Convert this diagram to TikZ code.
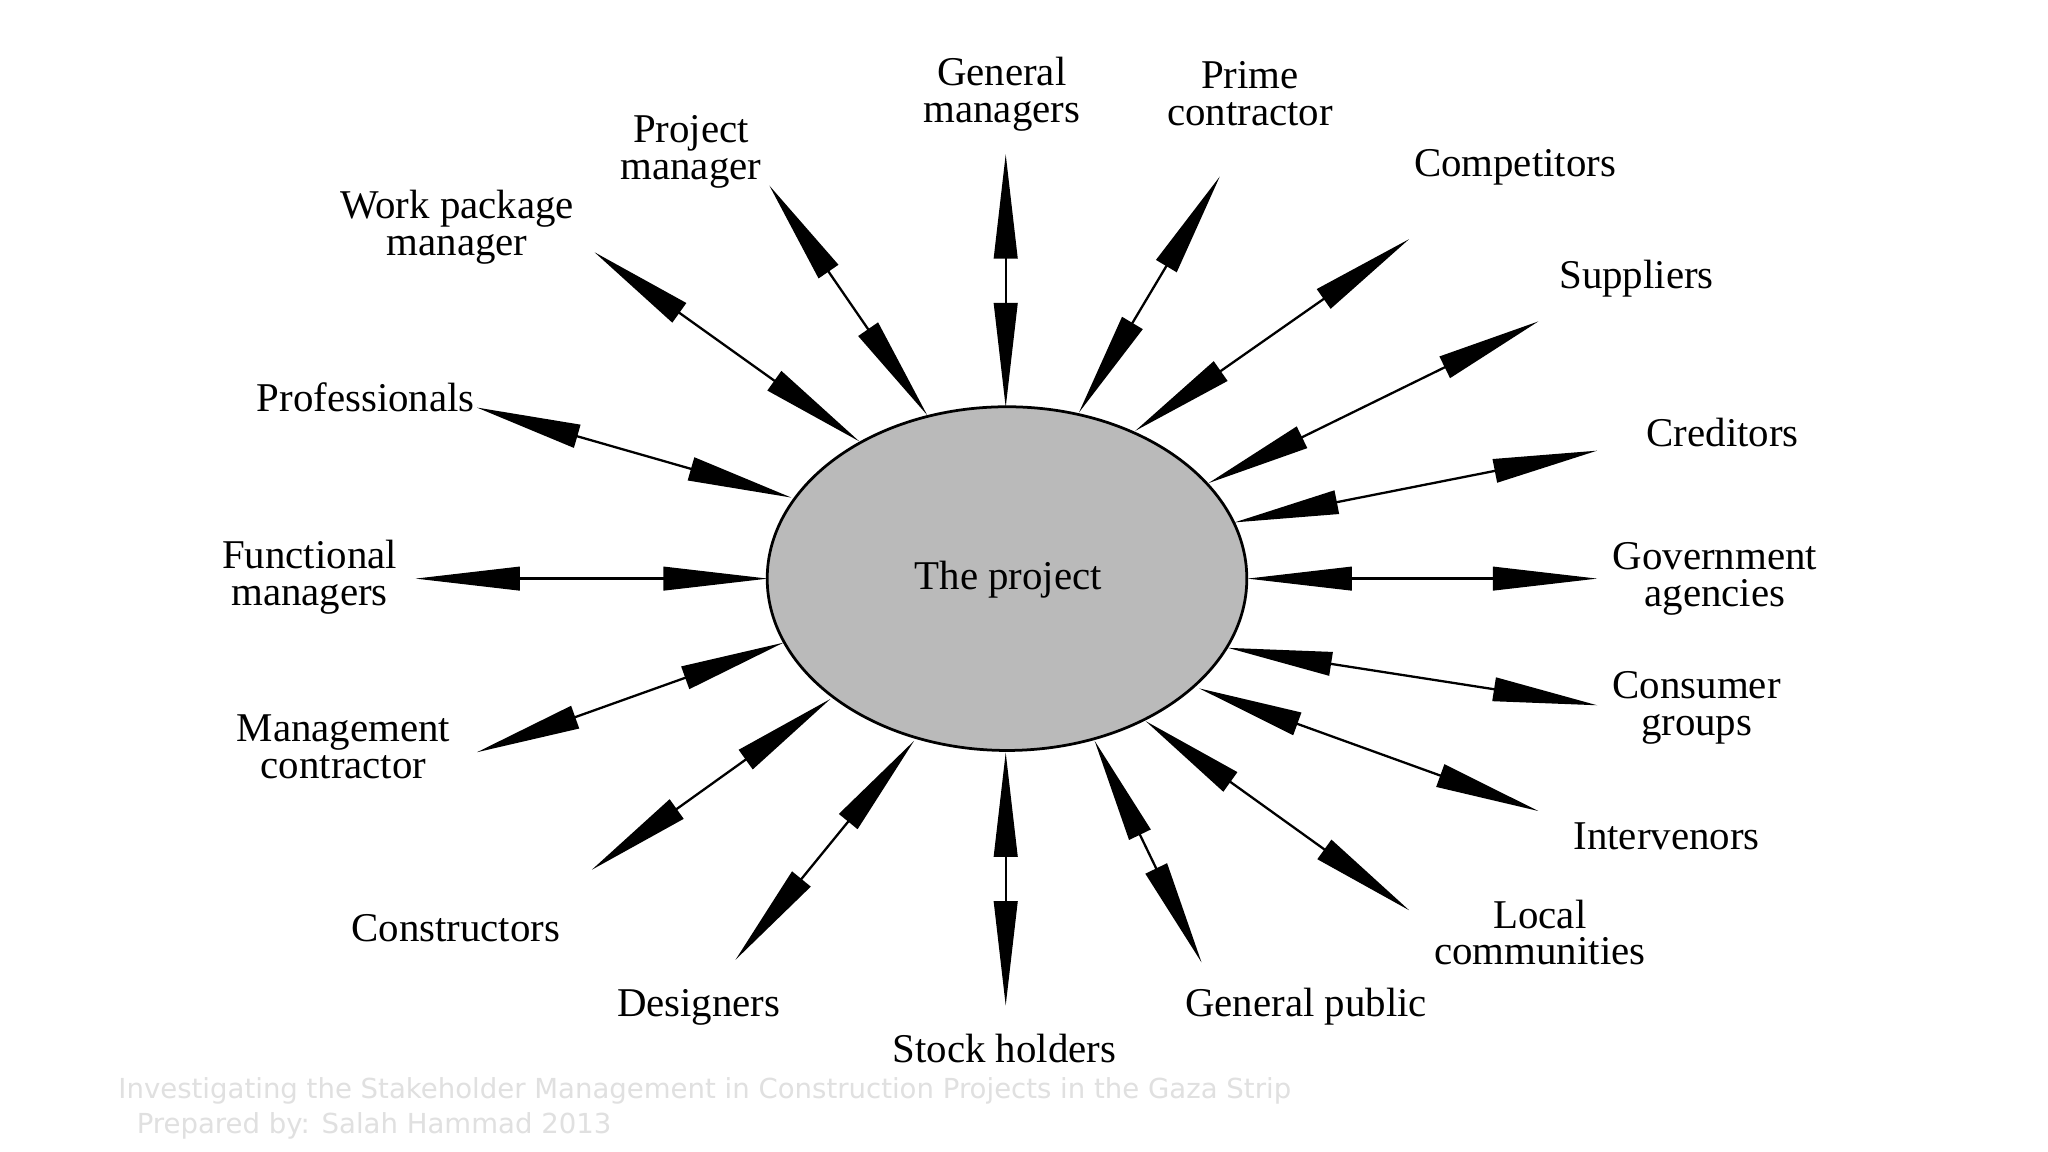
\documentclass[tikz,border=0pt]{standalone}
\usepackage{fontspec}
\setmainfont{Liberation Serif}
\newfontfamily\footfont{DejaVu Sans}
\usetikzlibrary{arrows.meta,shapes.geometric}
\begin{document}
\begin{tikzpicture}[x=0.01cm,y=-0.01cm,
  lab/.style={font=\fontsize{8.9}{8}\selectfont,align=center,inner sep=0pt},
  link/.style={line width=0.5pt,{Triangle[length=0.8cm,width=0.18cm]}-{Triangle[length=0.8cm,width=0.18cm]}}]
\useasboundingbox (0,0) rectangle (1568,882);
\fill[white] (0,0) rectangle (1568,882);
\node[draw,line width=0.6pt,fill=black!27,ellipse,minimum width=3.67cm,minimum height=2.63cm,inner sep=0pt] (P) at (771,443) {};
\node[lab] (Pt) at (772,444) {The project};
\foreach \n/\ox/\oy/\ix/\iy in {gm/770/118/770/312, pc/934/135/826/316, co/1079/183/869/330, su/1178/246/925/370, cr/1223/345/945/400, ga/1223/443/955/443, cg/1223/540/940/496, iv/1178/621/918/527, lc/1079/697/877/552, gp/920/737/838/567, sh/770/770/770/576, de/563/735/700/567, cs/453/666/636/535, mc/365/576/600/492, fm/318/443/588/443, pr/365/312/606/381, wp/455/193/658/338, pm/589/142/710/318}{
  \coordinate (o\n) at (\ox,\oy);
  \coordinate (i\n) at (\ix,\iy);
  \draw[link] (o\n) -- (i\n);
}
\node[lab] (Lgm) at (767,72) {General\\managers};
\node[lab] (Lpc) at (957,72) {Prime\\contractor};
\node[lab] (Lco) at (1160,128) {Competitors};
\node[lab] (Lsu) at (1253,213) {Suppliers};
\node[lab] (Lcr) at (1319,331) {Creditors};
\node[lab] (Lga) at (1313,443) {Government\\agencies};
\node[lab] (Lcg) at (1299,542) {Consumer\\groups};
\node[lab] (Liv) at (1276,640) {Intervenors};
\node[lab] (Llc) at (1179,714) {Local\\communities};
\node[lab] (Lgp) at (1000,771) {General public};
\node[lab] (Lsh) at (769,803) {Stock holders};
\node[lab] (Lde) at (535,771) {Designers};
\node[lab] (Lcs) at (349,711) {Constructors};
\node[lab] (Lmc) at (263,572) {Management\\contractor};
\node[lab] (Lfm) at (237,442) {Functional\\managers};
\node[lab] (Lpr) at (280,304) {Professionals};
\node[lab] (Lwp) at (350,174) {Work package\\manager};
\node[lab] (Lpm) at (529,116) {Project\\manager};
\node[anchor=west,inner sep=0pt,text=black!12,font=\footfont\fontsize{6}{7}\selectfont] (F1) at (90,835) {Investigating the Stakeholder Management in Construction Projects in the Gaza Strip};
\node[anchor=west,inner sep=0pt,text=black!12,font=\footfont\fontsize{6}{7}\selectfont] (F2) at (104,862) {Prepared by: Salah Hammad 2013};
\end{tikzpicture}
\end{document}
